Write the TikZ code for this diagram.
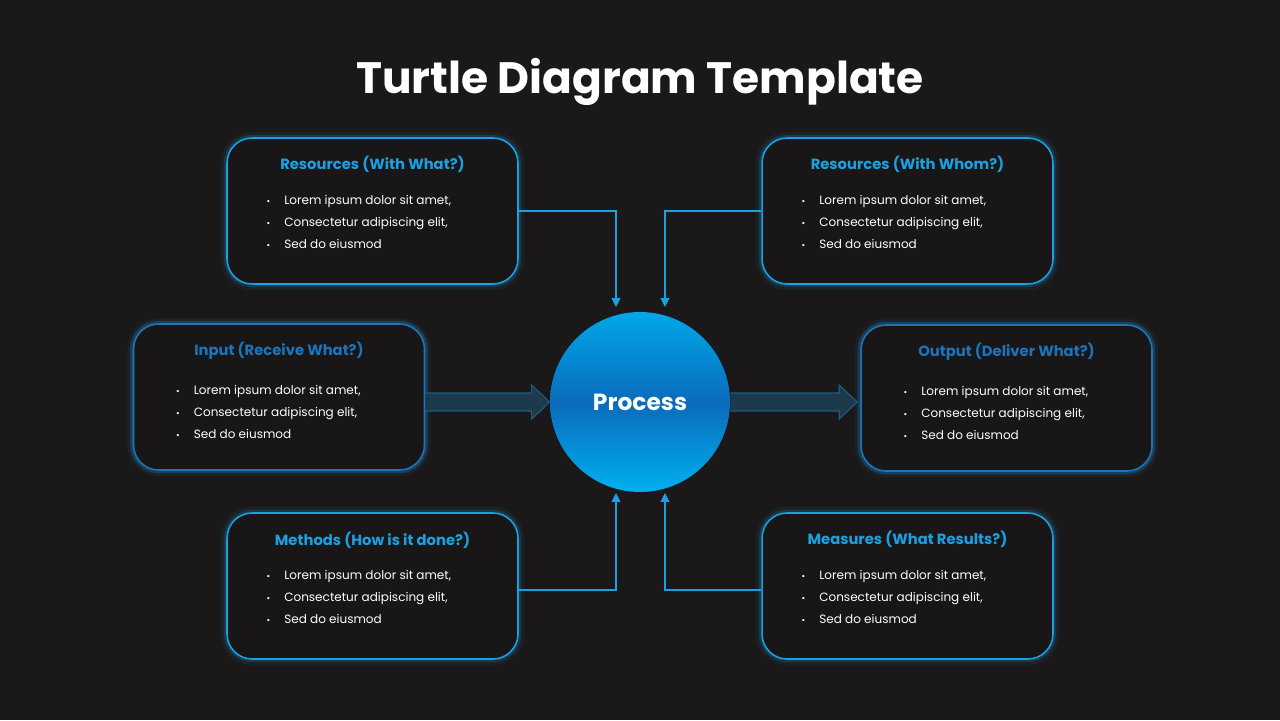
\documentclass[tikz,border=0pt]{standalone}
\usepackage{fontspec}
\setmainfont{Poppins}
\usetikzlibrary{arrows.meta}
\usetikzlibrary{calc}
\usetikzlibrary{positioning}

\definecolor{bgdark}{HTML}{1A1818}
\definecolor{boxfill}{HTML}{181617}
\definecolor{cyanline}{HTML}{1BA1E2}
\definecolor{midblue}{HTML}{1C75BC}
\definecolor{arrowfill}{HTML}{1C3A4C}
\definecolor{arrowedge}{HTML}{1F5C80}
\definecolor{proctop}{HTML}{00A8EA}
\definecolor{procmid}{HTML}{0A6BBC}
\definecolor{procbot}{HTML}{00B0F0}

\newcommand{\itemlines}{{\fontsize{5}{5}\selectfont\textbullet}\hspace{8pt}Lorem ipsum dolor sit amet,\\
  {\fontsize{5}{5}\selectfont\textbullet}\hspace{8pt}Consectetur adipiscing elit,\\
  {\fontsize{5}{5}\selectfont\textbullet}\hspace{8pt}Sed do eiusmod}

\begin{document}
\begin{tikzpicture}[x=0.02cm,y=-0.02cm]

  \tikzset{card/.style = {rectangle,rounded corners=0.5cm,fill=boxfill,draw=cyanline,line width=0.9pt,
      minimum width=5.82cm,minimum height=2.92cm,
      preaction={draw=cyanline,line width=7pt,opacity=0.08},
      preaction={draw=cyanline,line width=3.5pt,opacity=0.18}}}
  \tikzset{midcard/.style = {card,draw=midblue,
      preaction={draw=midblue,line width=4pt,opacity=0.12}}}
  \tikzset{head/.style = {font=\bfseries\fontsize{8.4}{10}\selectfont,text=cyanline}}
  \tikzset{items/.style = {align=left,text=white,inner sep=0pt,font=\fontsize{6.85}{12.4}\selectfont}}
  \tikzset{link/.style = {-{Triangle[length=5pt,width=5pt]},draw=cyanline,line width=0.7pt}}
  \tikzset{bigarrow/.style = {fill=arrowfill,draw=arrowedge,line width=0.6pt,line join=miter}}

  \fill[bgdark] (0,0) rectangle (1280,720);
  \useasboundingbox (0,0) rectangle (1280,720);

  \node[text=white,font=\bfseries\fontsize{25}{30}\selectfont] (ttl) at (640,82) {Turtle Diagram Template};

  % cards
  \node[card] (tl) at (372.5,211) {};
  \node[card] (tr) at (907.5,211) {};
  \node[midcard] (ml) at (279,397) {};
  \node[midcard] (mr) at (1006.5,398) {};
  \node[card] (bl) at (372.5,586) {};
  \node[card] (br) at (907.5,586) {};

  % process
  \node[circle,minimum size=3.6cm,top color=proctop,bottom color=procbot,middle color=procmid,
        text=white,font=\bfseries\fontsize{13.3}{16}\selectfont] (proc) at (640,402) {Process};

  % headings
  \node[head] (tlh) at ($(tl.north)+(0,27)$) {Resources (With What?)};
  \node[head] (trh) at ($(tr.north)+(0,27)$) {Resources (With Whom?)};
  \node[head,text=midblue] (mlh) at ($(ml.north)+(0,27)$) {Input (Receive What?)};
  \node[head,text=midblue] (mrh) at ($(mr.north)+(0,27)$) {Output (Deliver What?)};
  \node[head] (blh) at ($(bl.north)+(0,28)$) {Methods (How is it done?)};
  \node[head] (brh) at ($(br.north)+(0,27)$) {Measures (What Results?)};

  % bullet lists
  \node[items,anchor=west] (tli) at ($(tl.west)+(40,11)$) {\itemlines};
  \node[items,anchor=west] (tri) at ($(tr.west)+(40,11)$) {\itemlines};
  \node[items,anchor=west] (mli) at ($(ml.west)+(43,15)$) {\itemlines};
  \node[items,anchor=west] (mri) at ($(mr.west)+(43,15)$) {\itemlines};
  \node[items,anchor=west] (bli) at ($(bl.west)+(40,11)$) {\itemlines};
  \node[items,anchor=west] (bri) at ($(br.west)+(40,11)$) {\itemlines};

  % arrow ends
  \coordinate (tlend) at (616,307);
  \coordinate (trend) at (665,307);
  \coordinate (blend) at (616,493);
  \coordinate (brend) at (665,493);

  %edges
  \draw[link] (tl.east) -| (tlend);
  \draw[link] (tr.west) -| (trend);
  \draw[link] ($(bl.east)+(0,4)$) -| (blend);
  \draw[link] ($(br.west)+(0,4)$) -| (brend);

  \draw[bigarrow] ($(ml.east |- proc.west)+(0,-9)$) -- ($(proc.west)+(-18,-9)$) -- ($(proc.west)+(-18,-17)$)
    -- (proc.west) -- ($(proc.west)+(-18,17)$) -- ($(proc.west)+(-18,9)$) -- ($(ml.east |- proc.west)+(0,9)$);
  \draw[bigarrow] ($(proc.east)+(0,-9)$) -- ($(mr.west |- proc.east)+(-21,-9)$) -- ($(mr.west |- proc.east)+(-21,-17)$)
    -- ($(mr.west |- proc.east)+(-3,0)$) -- ($(mr.west |- proc.east)+(-21,17)$) -- ($(mr.west |- proc.east)+(-21,9)$) -- ($(proc.east)+(0,9)$);
\end{tikzpicture}
\end{document}
